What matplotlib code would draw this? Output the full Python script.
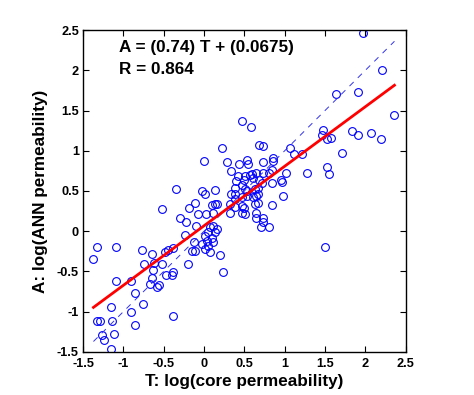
import matplotlib.pyplot as plt
import numpy as np

plt.rcParams['font.family'] = ['Liberation Sans', 'DejaVu Sans']
plt.rcParams['font.weight'] = 'bold'

# core permeability (T) vs ANN permeability (A), log scale
T = np.array([
    -1.37, -1.32, -1.085, -1.33, -1.29, -1.135, -1.15, -1.11, -1.27, -1.24,
    -1.15, -1.085, -0.91, -0.85, -0.755, -0.91, -0.86, -0.38, -0.764, -0.65,
    -0.487, -0.446, -0.39, -0.52, -0.62, -0.74, -0.63, -0.47, -0.39, -0.40,
    -0.64, -0.67, -0.58, -0.56, -0.343, -0.52, -0.30, -0.18, -0.22, -0.24,
    -0.20, -0.13, -0.11, -0.15, -0.11, -0.07, -0.10, -0.03, 0.01, 0.14,
    0.07, 0.115, 0.157, 0.05, 0.012, 0.095, 0.033, -0.03, 0.05, 0.115,
    0.01, 0.074, 0.136, 0.20, 0.24, 0.02, 0.095, 0.136, 0.115, 0.16,
    0.32, 0.32, 0.47, 0.34, 0.47, 0.63, 0.65,
    0.00, 0.22, 0.28, 0.33, 0.43, 0.53, 0.55, 0.685, 0.73, 0.47,
    0.58, 0.42, 0.40, 0.49, 0.47, 0.38, 0.38, 0.53, 0.59, 0.65,
    0.65, 0.86, 0.86, 0.735, 0.84, 0.735, 1.02, 0.72, 0.84, 0.96,
    0.51, 0.67, 0.98, 0.84, 0.38, 0.38, 0.49, 0.51, 0.65, 0.735,
    0.735, 0.71, 0.80, 0.67, 0.97, 0.51, 0.57, 0.61, 0.68, 0.80,
    0.63, 0.67, 0.53, 0.61, 0.47,
    1.06, 1.21, 1.11, 1.28, 1.71, 1.53, 1.55, 1.48, 1.46, 1.52,
    1.57, 1.83, 1.91, 2.07, 2.19, 1.97, 2.21, 1.64, 1.91, 2.36, 1.50,
])
A = np.array([
    -0.345, -0.19, -0.20, -1.11, -1.12, -1.12, -0.94, -1.28, -1.29, -1.35,
    -1.46, -0.62, -0.62, -0.77, -0.90, -1.00, -1.17, -1.05, -0.23, -0.28,
    -0.26, -0.23, -0.21, -0.41, -0.39, -0.41, -0.48, -0.54, -0.51, -0.55,
    -0.58, -0.65, -0.69, -0.67, 0.524, 0.276, 0.17, 0.29, 0.11, -0.05,
    -0.41, -0.14, -0.24, -0.24, 0.345, 0.21, 0.07, 0.50, 0.46, 0.51,
    0.05, 0.07, 0.03, -0.01, -0.06, -0.08, -0.12, -0.16, -0.18, -0.14,
    -0.22, -0.26, -0.01, -0.30, -0.51, 0.21, 0.32, 0.34, 0.23, 0.34,
    0.34, 0.23, 0.23, 0.46, 0.42, 0.34, 0.17,
    0.876, 1.04, 0.855, 0.75, 0.83, 0.89, 0.83, 1.07, 1.06, 1.37,
    1.29, 0.68, 0.62, 0.64, 0.58, 0.54, 0.46, 0.50, 0.71, 0.72,
    0.44, 0.91, 0.87, 0.86, 0.76, 0.72, 0.72, 0.60, 0.60, 0.64,
    0.52, 0.54, 0.44, 0.32, 0.40, 0.30, 0.29, 0.21, 0.23, 0.17,
    0.11, 0.05, 0.05, 0.345, 0.61, 0.68, 0.70, 0.66, 0.64, 0.72,
    0.52, 0.46, 0.44, 0.42, 0.31,
    1.04, 0.955, 0.955, 0.72, 0.975, 0.80, 0.71, 1.26, 1.20, 1.14,
    1.155, 1.24, 1.20, 1.22, 1.15, 2.46, 2.00, 1.70, 1.73, 1.45, -0.19,
])

slope = 0.74
intercept = 0.0675
r_value = 0.864

ticks = [-1.5, -1, -0.5, 0, 0.5, 1, 1.5, 2, 2.5]
tick_labels = ['-1.5', '-1', '-0.5', '0', '0.5', '1', '1.5', '2', '2.5']

fig = plt.figure(figsize=(4.74, 3.95), dpi=100)
ax = fig.add_axes([0.175, 0.109, 0.681, 0.815])

ax.plot(T, A, 'o', mfc='none', mec='blue', ms=5.6, mew=0.8)

x_line = np.array([T.min(), T.max()])
ax.plot(x_line, x_line, '--', color='#3333ee', lw=0.7, dashes=(6, 6))
ax.plot(x_line, slope * x_line + intercept, color='red', lw=2)

ax.text(-1.05, 2.28, 'A = (%.2f) T + (%.4f)' % (slope, intercept),
        fontsize=12.3, fontweight='bold', va='center')
ax.text(-1.05, 2.01, 'R = %.3f' % r_value,
        fontsize=12.3, fontweight='bold', va='center')

ax.set_xlim(-1.5, 2.5)
ax.set_ylim(-1.5, 2.5)
ax.set_xticks(ticks)
ax.set_yticks(ticks)
ax.set_xticklabels(tick_labels)
ax.set_yticklabels(tick_labels)
ax.tick_params(direction='in', top=True, right=True, labelsize=9.2, length=4)
ax.tick_params(axis='x', pad=4)
ax.tick_params(axis='y', pad=3)
for lab in ax.get_xticklabels() + ax.get_yticklabels():
    lab.set_fontweight('bold')
for sp in ax.spines.values():
    sp.set_linewidth(1.0)

ax.set_xlabel('T: log(core permeability)', fontsize=12.3, fontweight='bold', labelpad=3)
ax.set_ylabel('A: log(ANN permeability)', fontsize=12.3, fontweight='bold', labelpad=6)

fig.savefig('out.png', dpi=100)
